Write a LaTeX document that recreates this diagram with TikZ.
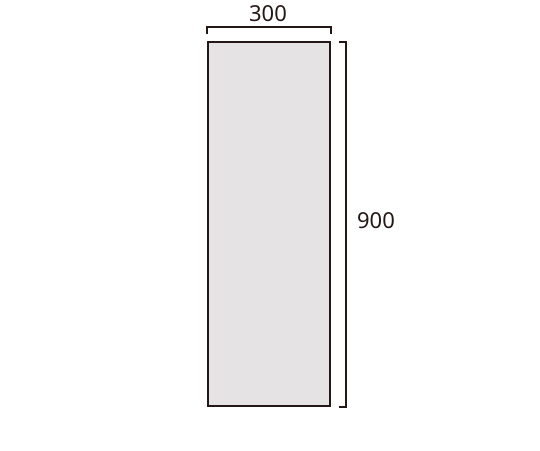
\documentclass[tikz,border=0pt]{standalone}
\usepackage{fontspec}
\setmainfont{Noto Sans}
\definecolor{LineColor}{RGB}{35,24,21}
\definecolor{PanelColor}{RGB}{230,227,228}
\usetikzlibrary{positioning, calc}

\begin{document}
\begin{tikzpicture}[
    x=1pt, y=-1pt,
    panel/.style={rectangle, draw=LineColor, fill=PanelColor, line width=1.8pt, minimum width=122pt, minimum height=364pt, inner sep=0pt},
    dim/.style={draw=LineColor, line width=1.6pt},
    label/.style={font=\fontsize{22}{26}\selectfont, text=LineColor, inner sep=0pt},
]
\useasboundingbox (0,0) rectangle (540,450);

% Panel
\node[panel] (panel) at (269,224) {};

% Width bracket
\coordinate (wl) at ($(panel.north west)+(0,-7)$);
\coordinate (wr) at ($(panel.north east)+(0,-7)$);
\draw[dim] (wl) -- ++(0,-7) -| (wr);
\node[label] (width) at (268,14) {300};

% Height bracket
\coordinate (ht) at ($(panel.north east)+(8,1)$);
\coordinate (hb) at ($(panel.south east)+(8,0)$);
\draw[dim] (ht) -- ++(7,0) |- (hb);
\node[label] (height) at (376,221) {900};

\end{tikzpicture}
\end{document}
